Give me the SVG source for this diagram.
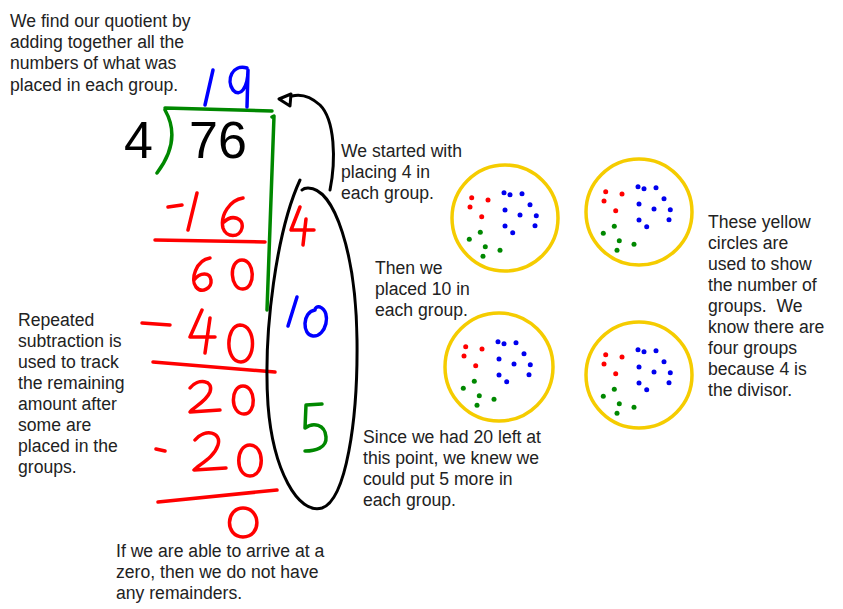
<svg xmlns="http://www.w3.org/2000/svg" xmlns:xlink="http://www.w3.org/1999/xlink" width="843" height="609" viewBox="0 0 843 609">
<style>
text{font-family:"Liberation Sans",Arial,sans-serif;fill:#222;font-size:17.6px}
.big{font-size:52px;fill:#000}
.s{fill:none;stroke-linecap:round;stroke-linejoin:round}
.r{stroke:#f00;stroke-width:3.5}
.b{stroke:#00f;stroke-width:3.5}
.g{stroke:#080;stroke-width:3.5}
.k{stroke:#000;stroke-width:3}
.yc{fill:none;stroke:#f5cc00;stroke-width:3.5}
.dr{fill:#f00}.db{fill:#00e}.dg{fill:#080}
</style>
<defs>
<g id="dots">
<circle class="dr" cx="-33.3" cy="-20.3" r="2.5"/><circle class="dr" cx="-35" cy="-11" r="2.5"/><circle class="dr" cx="-17" cy="-18" r="2.5"/><circle class="dr" cx="-23.3" cy="-1.3" r="2.5"/>
<circle class="db" cx="-1" cy="-25.3" r="2.5"/><circle class="db" cx="5" cy="-23.3" r="2.5"/><circle class="db" cx="17" cy="-24.3" r="2.5"/><circle class="db" cx="25" cy="-13.3" r="2.5"/><circle class="db" cx="0" cy="-8" r="2.5"/><circle class="db" cx="15" cy="-3" r="2.5"/><circle class="db" cx="31.3" cy="-2.3" r="2.5"/><circle class="db" cx="0" cy="8" r="2.5"/><circle class="db" cx="7.7" cy="14.7" r="2.5"/><circle class="db" cx="30" cy="7.7" r="2.5"/>
<circle class="dg" cx="-24.7" cy="14.3" r="2.5"/><circle class="dg" cx="-35.7" cy="21.3" r="2.5"/><circle class="dg" cx="-19.7" cy="28.7" r="2.5"/><circle class="dg" cx="-5" cy="32.3" r="2.5"/><circle class="dg" cx="-22" cy="38.3" r="2.5"/>
</g>
</defs>
<g id="text-top"><text x="10" y="27">We find our quotient by</text><text x="10" y="48">adding together all the</text><text x="10" y="69">numbers of what was</text><text x="10" y="91">placed in each group.</text></g>
<g id="text-started"><text x="341" y="157">We started with</text><text x="341" y="178">placing 4 in</text><text x="341" y="199">each group.</text></g>
<g id="text-then"><text x="375" y="274">Then we</text><text x="375" y="295">placed 10 in</text><text x="375" y="316">each group.</text></g>
<g id="text-yellow"><text x="708" y="228">These yellow</text><text x="708" y="249">circles are</text><text x="708" y="270">used to show</text><text x="708" y="291">the number of</text><text x="708" y="312" xml:space="preserve">groups.  We</text><text x="708" y="333">know there are</text><text x="708" y="354">four groups</text><text x="708" y="375">because 4 is</text><text x="708" y="396">the divisor.</text></g>
<g id="text-repeated"><text x="18" y="326">Repeated</text><text x="18" y="347">subtraction is</text><text x="18" y="368">used to track</text><text x="18" y="389">the remaining</text><text x="18" y="410">amount after</text><text x="18" y="431">some are</text><text x="18" y="452">placed in the</text><text x="18" y="473">groups.</text></g>
<g id="text-since"><text x="363" y="443">Since we had 20 left at</text><text x="363" y="464">this point, we knew we</text><text x="363" y="485">could put 5 more in</text><text x="363" y="506">each group.</text></g>
<g id="text-zero"><text x="116" y="557">If we are able to arrive at a</text><text x="116" y="578">zero, then we do not have</text><text x="116" y="599">any remainders.</text></g>
<g id="division">
<text class="big" x="124" y="158">4</text><text class="big" x="189" y="158">76</text>
<path class="s g" d="M165,108 L272,111 M165,110 Q182,140 157,173 M272,117 L274,116 L267,310"/>
<path class="s b" d="M213,70 L205,105 M247,68 C232,64 226,80 233,90 C240,98 248,88 248,70 L247,107"/>
<path class="s r" d="M168,207 L182,205 M197,193 L188,230 M243,198 C230,200 220,215 223,228 C226,238 240,238 242,228 C244,218 232,214 224,222 M155,240 L265,242"/>
<path class="s r" d="M210,258 C196,260 190,280 196,287 C202,294 212,288 211,280 C210,272 200,272 194,280 M242,260 C228,260 230,290 243,289 C256,288 255,260 242,260 Z"/>
<path class="s r" d="M142,323 L170,325 M202,310 L190,337 L215,337 M210,318 L205,353 M240,325 C225,326 225,362 241,362 C256,362 257,325 240,325 Z M153,362 L275,372"/>
<path class="s r" d="M190,388 C198,378 214,380 210,392 C206,402 192,408 190,412 L220,410 M243,386 C230,386 230,414 244,414 C257,414 256,386 243,386 Z"/>
<path class="s r" d="M156,449 L165,451 M195,440 C205,428 222,432 218,445 C214,458 198,465 194,470 L226,468 M250,445 C235,445 235,476 250,476 C265,476 265,445 250,445 Z M158,502 L277,490"/>
<path class="s r" d="M243,508 C226,508 224,536 243,537 C262,537 261,508 243,508 Z"/>
<path class="s r" d="M300,207 L291,230 L314,230 M306,219 L303,245"/>
<path class="s b" d="M297,297 L288,326 M315,310 C302,312 302,335 313,336 C326,337 332,312 320,307 C317,306 315,308 315,310 Z"/>
<path class="s g" d="M322,404 L306,405 L305,428 C313,422 325,424 326,437 C327,448 315,451 305,451"/>
</g>
<g id="connectors">
<path class="s k" d="M300,180 C277,230 263,330 268,405 C273,470 298,515 322,508 C346,500 358,420 357,340 C356,255 335,188 308,188 C305,188 303,189 302,190"/>
<path class="s k" d="M330,190 C336,160 335,120 320,105 C310,96 300,94 292,96"/>
<path class="s k" d="M291,94 L279,99 L290,106 Z"/>
</g>
<g id="group1"><circle class="yc" cx="505" cy="218" r="53"/><use xlink:href="#dots" x="505" y="218"/></g>
<g id="group2"><circle class="yc" cx="639" cy="212" r="53"/><use xlink:href="#dots" x="639" y="212"/></g>
<g id="group3"><circle class="yc" cx="499" cy="367" r="54"/><use xlink:href="#dots" x="499" y="367"/></g>
<g id="group4"><circle class="yc" cx="639" cy="375" r="53"/><use xlink:href="#dots" x="639" y="375"/></g>
</svg>
